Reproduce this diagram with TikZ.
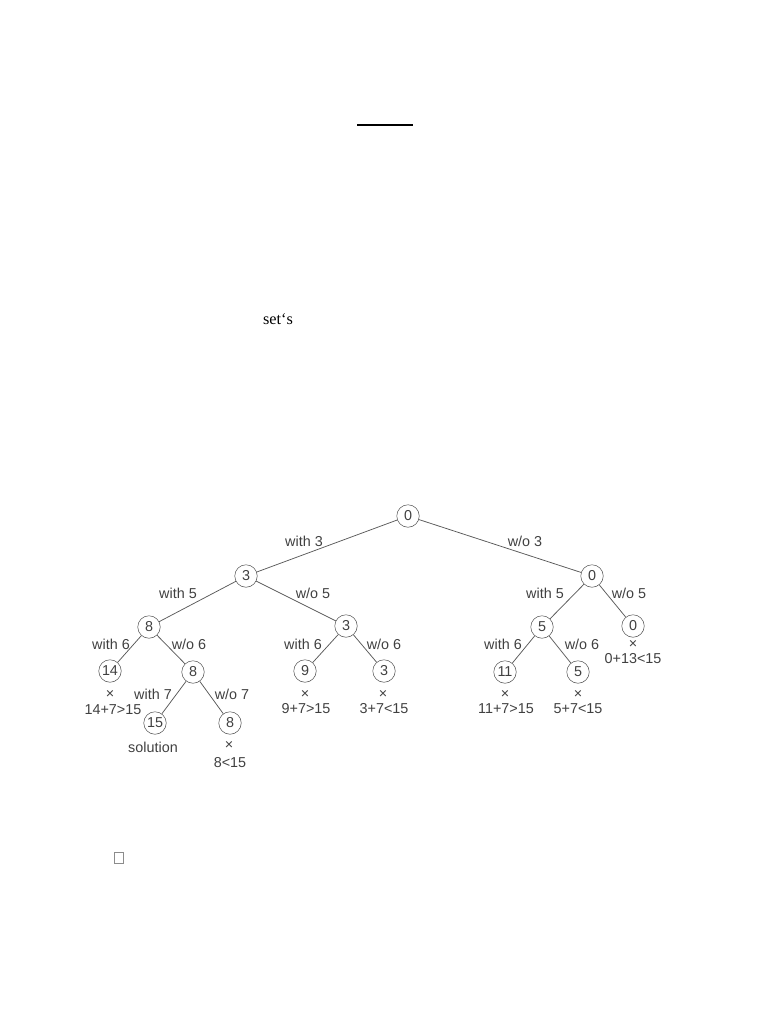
\documentclass[tikz,border=0pt]{standalone}
\usepackage{fontspec}
\setmainfont{Liberation Sans}
\newfontfamily\textserif{Liberation Serif}
\usepackage{tikz}

\tikzset{
  vtx/.style={draw=black!70, circle, inner sep=0pt, minimum size=18pt},
  lbl/.style={inner sep=0pt},
  edge/.style={draw=black!65, line width=0.6pt}
}

\begin{document}
\begin{tikzpicture}[x=0.8pt, y=-0.8pt, every node/.style={font=\fontsize{11.5}{12}\selectfont, text=black!75}]
      \useasboundingbox (0,0) rectangle (768,1024);

      % Page leftovers
      \coordinate (ruleL) at (357,125);
      \coordinate (ruleR) at (413,125);
      \draw[black, line width=0.9pt] (ruleL) -- (ruleR);
      \node[lbl, text=black, font=\textserif\fontsize{13}{14}\selectfont] (sets) at (278,319) {set‘s};
      \draw[black!45, line width=0.6pt] (114,852) rectangle (123,863);

      % Tree vertices
      \foreach \n/\x/\y/\v in {root/408/516/0, a/246/576/3, b/592/576/0,
          aa/149/627/8, ab/346/626/3, ba/542/627/5, bb/633/626/0,
          aaa/110/671/14, aab/193/672/8, aba/305/671/9, abb/384/671/3,
          baa/505/672/11, bab/578/672/5, aaba/155/723/15, aabb/230/723/8}
      {
        \node[vtx] (\n) at (\x,\y) {\v};
      }

      % Branches
      \foreach \p/\c in {root/a, root/b, a/aa, a/ab, b/ba, b/bb, aa/aaa, aa/aab,
          ab/aba, ab/abb, ba/baa, ba/bab, aab/aaba, aab/aabb}
      {
        \draw[edge] (\p) -- (\c);
      }

      % Branch labels
      \foreach \n/\x/\y/\t in {la/304/541/with 3, lb/525/541/w\slash o 3,
          laa/178/593/with 5, lab/313/593/w\slash o 5, lba/545/593/with 5, lbb/629/593/w\slash o 5,
          laaa/111/644/with 6, laab/189/644/w\slash o 6, laba/303/644/with 6, labb/384/644/w\slash o 6,
          lbaa/503/644/with 6, lbab/582/644/w\slash o 6, laaba/153/694/with 7, laabb/232/694/w\slash o 7}
      {
        \node[lbl] (\n) at (\x,\y) {\t};
      }

      % Pruned leaves
      \foreach \n/\x/\y in {xaaa/110/694, xaabb/229/745, xaba/305/694, xabb/383/694,
          xbaa/505/694, xbab/578/694, xbb/633/644}
      {
        \node[lbl, font=\fontsize{11.5}{12}\selectfont] (\n) at (\x,\y) {×};
      }

      % Reasons
      \foreach \n/\x/\y/\t in {raaa/113/710/14+7>15, raabb/230/763/8<15, raba/306/709/9+7>15,
          rabb/384/709/3+7<15, rbaa/506/709/11+7>15, rbab/578/709/5+7<15,
          rbb/633/659/0+13<15, raaba/153/747/solution}
      {
        \node[lbl] (\n) at (\x,\y) {\t};
      }
\end{tikzpicture}
\end{document}
